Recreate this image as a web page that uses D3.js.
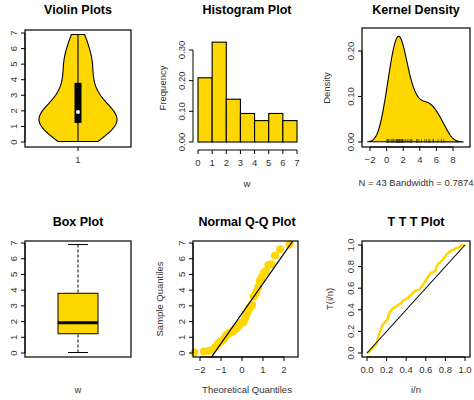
<!DOCTYPE html>
<html><head><meta charset="utf-8">
<script src="https://cdn.jsdelivr.net/npm/d3@7"></script>
<style>body{margin:0;background:#fff}text{font-family:"Liberation Sans",Arial,sans-serif}</style>
</head><body><svg id="c" width="474" height="400"></svg>
<script>
const w = [0.03,0.1,0.15,0.2,0.4,0.6,0.75,0.8,0.9,
  1.1,1.2,1.25,1.3,1.35,1.4,1.5,1.55,1.6,1.7,1.8,1.9,1.92,1.95,
  2.1,2.3,2.5,2.7,2.9,2.95,
  3.05,3.6,3.7,3.9,
  4.2,4.6,4.8,
  5.1,5.2,5.6,5.65,
  6.2,6.6,6.9];
const bandwidth = 0.7874;
const histBreaks = [0,1,2,3,4,5,6,7];
const titles = ["Violin Plots","Histogram Plot","Kernel Density","Box Plot","Normal Q-Q Plot","T T T Plot"];

const GOLD = "#FFD700";
const svg = d3.select("#c");
const n = w.length;
const s = w.slice().sort((a,b)=>a-b);
const q = p => d3.quantile(s,p);
const Q1=q(0.25), MED=q(0.5), Q3=q(0.75);
const kde = (x,h) => d3.sum(s, v => Math.exp(-0.5*((x-v)/h)**2))/(n*h*Math.sqrt(2*Math.PI));

function frame(b){svg.append("rect").attr("x",b.x0).attr("y",b.y0).attr("width",b.x1-b.x0).attr("height",b.y1-b.y0).attr("fill","none").attr("stroke","#000").attr("stroke-width",1.2);}
function title(t,cx,y){svg.append("text").attr("x",cx).attr("y",y).attr("text-anchor","middle").attr("font-weight","bold").attr("font-size",12.5).text(t);}
function yaxis(x,sc,ticks,fmt){
  const g=svg.append("g");
  g.append("line").attr("x1",x).attr("x2",x).attr("y1",sc(ticks[0])).attr("y2",sc(ticks[ticks.length-1])).attr("stroke","#000");
  ticks.forEach(t=>{const y=sc(t);
    g.append("line").attr("x1",x).attr("x2",x-4).attr("y1",y).attr("y2",y).attr("stroke","#000");
    g.append("text").attr("transform",`translate(${x-8},${y}) rotate(-90)`).attr("text-anchor","middle").attr("font-size",9.5).attr("fill","#333").text(fmt(t));});
}
function xaxis(y,sc,ticks,fmt){
  const g=svg.append("g");
  g.append("line").attr("y1",y).attr("y2",y).attr("x1",sc(ticks[0])).attr("x2",sc(ticks[ticks.length-1])).attr("stroke","#000");
  ticks.forEach(t=>{const x=sc(t);
    g.append("line").attr("y1",y).attr("y2",y+4).attr("x1",x).attr("x2",x).attr("stroke","#000");
    g.append("text").attr("x",x).attr("y",y+16).attr("text-anchor","middle").attr("font-size",9.5).attr("fill","#333").text(fmt(t));});
}
function label(t,x,y,rot){svg.append("text").attr("transform",`translate(${x},${y})${rot?" rotate(-90)":""}`).attr("text-anchor","middle").attr("font-size",9.5).attr("fill","#333").text(t);}
const f0=d3.format("d"), f1=d3.format(".1f"), f2=d3.format(".2f");
const line=d3.line();

// 1 Violin
{const b={x0:25,x1:131,y0:30,y1:147};
 const ys=d3.scaleLinear().domain([0,7]).range([142,33]);
 const cx=78;
 const grid=d3.range(0,101).map(i=>s[0]+(s[n-1]-s[0])*i/100);
 const dens=grid.map(g=>kde(g,bandwidth)); const mx=d3.max(dens);
 const xs=d3.scaleLinear().domain([0,mx]).range([0,39]);
 const pts=grid.map((g,i)=>[cx+xs(dens[i]),ys(g)]).concat(grid.slice().reverse().map((g,i)=>[cx-xs(dens[100-i]),ys(g)]));
 svg.append("path").attr("d",line(pts)+"Z").attr("fill",GOLD).attr("stroke","#000").attr("stroke-width",1.1);
 svg.append("line").attr("x1",cx).attr("x2",cx).attr("y1",ys(s[0])).attr("y2",ys(s[n-1])).attr("stroke","#000").attr("stroke-width",1.1);
 svg.append("rect").attr("x",cx-3.5).attr("width",7).attr("y",ys(Q3)).attr("height",ys(Q1)-ys(Q3)).attr("fill","#000");
 svg.append("circle").attr("cx",cx).attr("cy",ys(MED)).attr("r",2).attr("fill","#fff");
 frame(b); yaxis(b.x0,ys,d3.range(0,8),f0);
 xaxis(b.y1,d3.scaleLinear().domain([0,1]).range([cx-1,cx]),[1],f0);
 title(titles[0],78,14);}

// 2 Histogram
{const xs=d3.scaleLinear().domain([0,7]).range([198,297]);
 const ys=d3.scaleLinear().domain([0,0.3]).range([142,50]);
 const bins=d3.bin().domain([0,7]).thresholds(histBreaks.slice(1,-1))(s);
 bins.forEach(bn=>svg.append("rect").attr("x",xs(bn.x0)).attr("width",xs(bn.x1)-xs(bn.x0)).attr("y",ys(bn.length/n)).attr("height",ys(0)-ys(bn.length/n)).attr("fill",GOLD).attr("stroke","#000").attr("stroke-width",1.1));
 yaxis(193,ys,[0,0.1,0.2,0.3],f2); xaxis(150,xs,histBreaks,f0);
 label("Frequency",166,88,true); label("w",247,187);
 title(titles[1],247,14);}

// 3 Kernel density
{const b={x0:362,x1:470,y0:28,y1:147};
 const xs=d3.scaleLinear().domain([-2,8]).range([370,453]);
 const ys=d3.scaleLinear().domain([0,0.2]).range([142,51]);
 const lo=s[0]-3*bandwidth, hi=s[n-1]+3*bandwidth;
 const grid=d3.range(0,201).map(i=>lo+(hi-lo)*i/200);
 const pts=grid.map(g=>[xs(g),ys(kde(g,bandwidth))]);
 svg.append("path").attr("d",line(pts)+"Z").attr("fill",GOLD).attr("stroke","#000").attr("stroke-width",1.1);
 s.forEach(v=>svg.append("line").attr("x1",xs(v)).attr("x2",xs(v)).attr("y1",ys(0)+1).attr("y2",ys(0)-3).attr("stroke","#222").attr("stroke-width",0.6));
 frame(b); yaxis(b.x0,ys,[0,0.1,0.2],f2); xaxis(b.y1,xs,[-2,0,2,4,6,8],d=>d<0?"\u2212"+(-d):d);
 label("Density",330,88,true); label("N = 43   Bandwidth = 0.7874",416,186);
 title(titles[2],416,14);}

// 4 Box plot
{const b={x0:25,x1:131,y0:241,y1:357};
 const ys=d3.scaleLinear().domain([0,7]).range([353,243]);
 const cx=78;
 svg.append("line").attr("x1",cx).attr("x2",cx).attr("y1",ys(s[0])).attr("y2",ys(s[n-1])).attr("stroke","#000").attr("stroke-dasharray","3,2");
 [s[0],s[n-1]].forEach(v=>svg.append("line").attr("x1",cx-10).attr("x2",cx+10).attr("y1",ys(v)).attr("y2",ys(v)).attr("stroke","#000"));
 svg.append("rect").attr("x",cx-20).attr("width",40).attr("y",ys(Q3)).attr("height",ys(Q1)-ys(Q3)).attr("fill",GOLD).attr("stroke","#000");
 svg.append("line").attr("x1",cx-20).attr("x2",cx+20).attr("y1",ys(MED)).attr("y2",ys(MED)).attr("stroke","#000").attr("stroke-width",3);
 frame(b); yaxis(b.x0,ys,d3.range(0,8),f0); label("w",78,393);
 title(titles[3],78,226);}

// 5 QQ
{const b={x0:193,x1:298,y0:241,y1:357};
 const xs=d3.scaleLinear().domain([-2,2]).range([200,284]);
 const ys=d3.scaleLinear().domain([0,7]).range([353,243]);
 const th=s.map((v,i)=>[d3.quantile([0],0)||0, v]);
 const norm=d3.randomNormal; // not used for data
 const qn=p=>{ // inverse normal (Acklam)
  const a=[-39.6968302866538,220.946098424521,-275.928510446969,138.357751867269,-30.6647980661472,2.50662827745924],
   bb=[-54.4760987982241,161.585836858041,-155.698979859887,66.8013118877197,-13.2806815528857],
   c=[-0.00778489400243029,-0.322396458041136,-2.40075827716184,-2.54973253934373,4.37466414146497,2.93816398269878],
   d=[0.00778469570904146,0.32246712907004,2.445134137143,3.75440866190742];
  if(p<0.02425){const qq=Math.sqrt(-2*Math.log(p));return (((((c[0]*qq+c[1])*qq+c[2])*qq+c[3])*qq+c[4])*qq+c[5])/((((d[0]*qq+d[1])*qq+d[2])*qq+d[3])*qq+1);}
  if(p>1-0.02425){const qq=Math.sqrt(-2*Math.log(1-p));return -(((((c[0]*qq+c[1])*qq+c[2])*qq+c[3])*qq+c[4])*qq+c[5])/((((d[0]*qq+d[1])*qq+d[2])*qq+d[3])*qq+1);}
  const qq=p-0.5,r=qq*qq;return (((((a[0]*r+a[1])*r+a[2])*r+a[3])*r+a[4])*r+a[5])*qq/(((((bb[0]*r+bb[1])*r+bb[2])*r+bb[3])*r+bb[4])*r+1);};
 s.forEach((v,i)=>svg.append("circle").attr("cx",xs(qn((i+0.5)/n))).attr("cy",ys(v)).attr("r",4).attr("fill",GOLD));
 const z1=qn(0.25),z3=qn(0.75),sl=(Q3-Q1)/(z3-z1),ic=Q1-sl*z1;
 svg.append("clipPath").attr("id","qc").append("rect").attr("x",b.x0).attr("y",b.y0).attr("width",b.x1-b.x0).attr("height",b.y1-b.y0);
 svg.append("line").attr("clip-path","url(#qc)").attr("x1",xs(-3)).attr("y1",ys(ic-3*sl)).attr("x2",xs(3)).attr("y2",ys(ic+3*sl)).attr("stroke","#000").attr("stroke-width",1.2);
 frame(b); yaxis(b.x0,ys,d3.range(0,8),f0); xaxis(b.y1,xs,[-2,-1,0,1,2],d=>d<0?"\u2212"+(-d):d);
 label("Sample Quantiles",163,299,true); label("Theoretical Quantiles",247,393);
 title(titles[4],247,226);}

// 6 TTT
{const b={x0:362,x1:470,y0:241,y1:357};
 const xs=d3.scaleLinear().domain([0,1]).range([367,465]);
 const ys=d3.scaleLinear().domain([0,1]).range([353,245]);
 const tot=d3.sum(s); let cum=0;
 const pts=[[xs(0),ys(0)]].concat(s.map((v,i)=>{cum+=v;return [xs((i+1)/n),ys((cum+(n-i-1)*v)/tot)];}));
 svg.append("path").attr("d",line(pts)).attr("fill","none").attr("stroke",GOLD).attr("stroke-width",2.5);
 svg.append("line").attr("x1",xs(0)).attr("y1",ys(0)).attr("x2",xs(1)).attr("y2",ys(1)).attr("stroke","#000").attr("stroke-width",1.1);
 const t=[0,0.2,0.4,0.6,0.8,1];
 frame(b); yaxis(b.x0,ys,t,f1); xaxis(b.y1,xs,t,f1);
 label("T(i/n)",333,299,true); label("i/n",416,393);
 title(titles[5],416,226);}
</script></body></html>
